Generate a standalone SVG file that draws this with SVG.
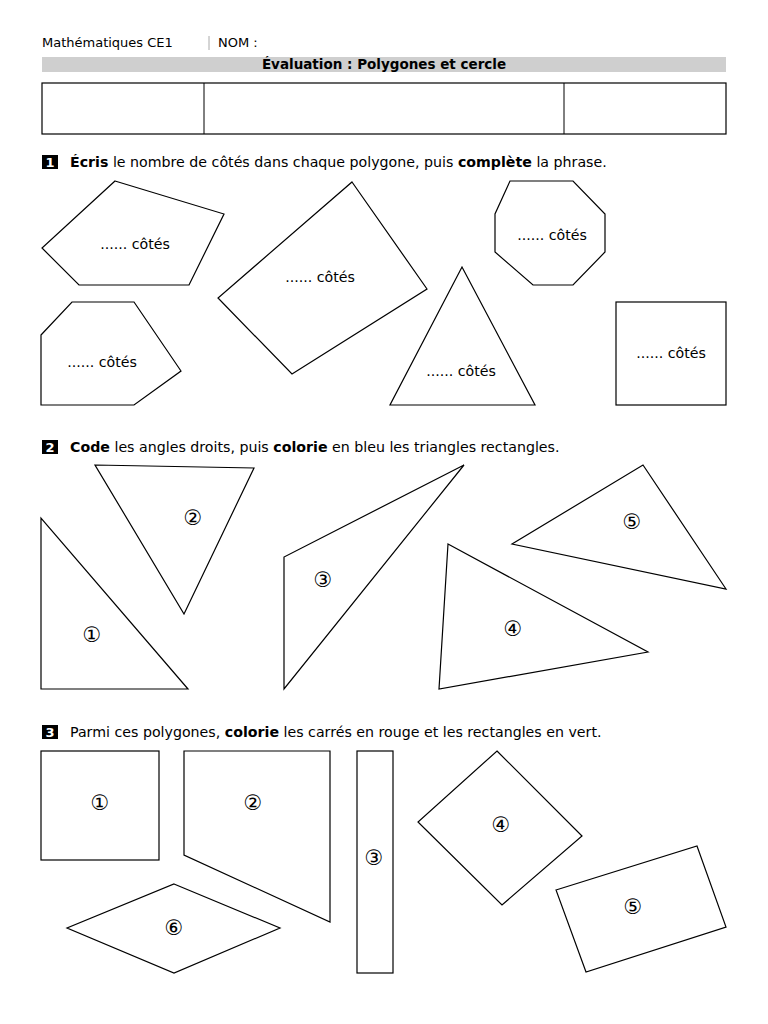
<svg xmlns="http://www.w3.org/2000/svg" width="768" height="1024" viewBox="0 0 768 1024">
<style>
text{font-family:"DejaVu Sans","Noto Sans",sans-serif;font-size:13px;fill:#000}
.s{fill:#fff;stroke:#000;stroke-width:1.2}
.b{font-weight:bold}
.i{font-size:14.2px}
.n{font-size:21px;text-anchor:middle}
.c{text-anchor:middle}
</style>
<rect width="768" height="1024" fill="#fff"/>
<text x="42" y="47">Mathématiques CE1</text>
<line x1="209" y1="36" x2="209" y2="50" stroke="#aaa"/>
<text x="218" y="47">NOM :</text>
<rect x="42" y="57" width="684" height="15" fill="#cfcfcf"/>
<text x="384" y="69" class="b c" style="font-size:13.5px">Évaluation : Polygones et cercle</text>
<g id="table"><rect x="42" y="83" width="684" height="51" class="s"/>
<line x1="204" y1="83" x2="204" y2="134" stroke="#000"/><line x1="564" y1="83" x2="564" y2="134" stroke="#000"/></g>

<rect x="42" y="155" width="16" height="14"/><text x="50" y="167" class="b c" style="fill:#fff">1</text>
<text x="70" y="167" class="i"><tspan class="b">Écris</tspan> le nombre de côtés dans chaque polygone, puis <tspan class="b">complète</tspan> la phrase.</text>
<g id="p1"><polygon class="s" points="115,181 224,214 189,285 79,285 42,248"/><text x="135" y="249" class="c i">...... côtés</text></g>
<g id="p2"><polygon class="s" points="352,182 427,289 292,374 218,298"/><text x="320" y="282" class="c i">...... côtés</text></g>
<g id="p3"><polygon class="s" points="510,181 573,181 605,214 605,252 573,285 533,285 495,252 495,214"/><text x="552" y="240" class="c i">...... côtés</text></g>
<g id="p4"><polygon class="s" points="41,335 72,302 134,302 181,371 134,405 41,405"/><text x="102" y="367" class="c i">...... côtés</text></g>
<g id="p5"><polygon class="s" points="462,267 535,405 390,405"/><text x="461" y="376" class="c i">...... côtés</text></g>
<g id="p6"><rect class="s" x="616" y="302" width="110" height="103"/><text x="671" y="358" class="c i">...... côtés</text></g>

<rect x="42" y="440" width="16" height="14"/><text x="50" y="452" class="b c" style="fill:#fff">2</text>
<text x="70" y="452" class="i"><tspan class="b">Code</tspan> les angles droits, puis <tspan class="b">colorie</tspan> en bleu les triangles rectangles.</text>
<g id="t1"><polygon class="s" points="41,518 41,689 188,689"/><text x="92" y="642" class="n">①</text></g>
<g id="t2"><polygon class="s" points="95,465 254,468 184,614"/><text x="193" y="525" class="n">②</text></g>
<g id="t3"><polygon class="s" points="464,465 284,557 284,689"/><text x="323" y="587" class="n">③</text></g>
<g id="t4"><polygon class="s" points="448,544 648,652 439,689"/><text x="513" y="636" class="n">④</text></g>
<g id="t5"><polygon class="s" points="643,465 726,589 512,544"/><text x="632" y="529" class="n">⑤</text></g>

<rect x="42" y="725" width="16" height="14"/><text x="50" y="737" class="b c" style="fill:#fff">3</text>
<text x="70" y="737" class="i">Parmi ces polygones, <tspan class="b">colorie</tspan> les carrés en rouge et les rectangles en vert.</text>
<g id="q1"><rect class="s" x="41" y="751" width="118" height="109"/><text x="100" y="810" class="n">①</text></g>
<g id="q2"><polygon class="s" points="184,751 330,751 330,922 184,855"/><text x="253" y="810" class="n">②</text></g>
<g id="q3"><rect class="s" x="357" y="751" width="36" height="222"/><text x="374" y="865" class="n">③</text></g>
<g id="q4"><polygon class="s" points="497,751 582,836 502,905 418,822"/><text x="501" y="832" class="n">④</text></g>
<g id="q5"><polygon class="s" points="556,890 697,846 726,927 586,972"/><text x="633" y="914" class="n">⑤</text></g>
<g id="q6"><polygon class="s" points="174,884 280,928 174,973 67,928"/><text x="174" y="935" class="n">⑥</text></g>
</svg>
